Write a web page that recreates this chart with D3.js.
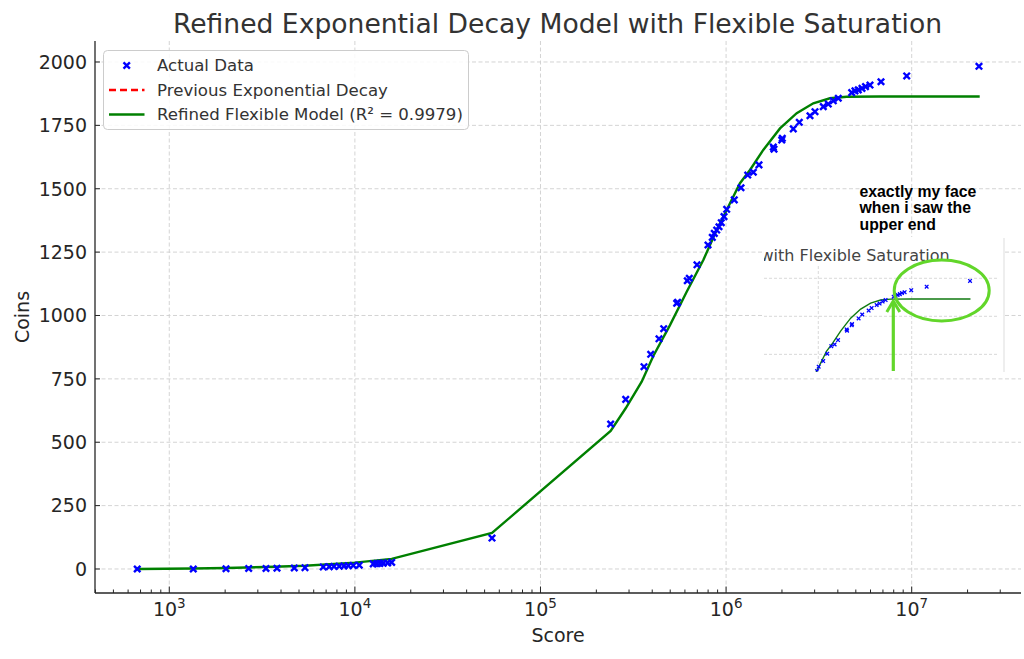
<!DOCTYPE html>
<html><head><meta charset="utf-8">
<script src="https://cdn.jsdelivr.net/npm/d3@7"></script>
<style>body{margin:0;background:#fff}svg{display:block;font-family:"DejaVu Sans",sans-serif}</style>
</head><body><svg id="c" width="1024" height="659"></svg>
<script>
// ---- data ----
const scores = [672,1347,2021,2678,3319,3804,4716,5384,6754,7278,7716,8240,8736,9213,9804,10560,12564,13110,13654,14223,15021,15785,
  54800,238800,287800,361200,392500,435100,461200,541800,548000,618000,633600,697000,799000,842700,863900,890100,915600,942200,974300,
  1007500,1107000,1203000,1308000,1402000,1504000,1796000,1812000,1995000,2009000,2302000,2480000,2832000,3013000,3340000,3553000,
  3781000,4023000,4750000,4948000,5156000,5398000,5638000,5961000,6833000,9400000,23040000];
const coins = [0,0,1,2,2,3,4,5,8,9,10,11,12,13,14,15,20,21,22,23,24,26,
  122,572,669,798,847,908,948,1048,1052,1137,1147,1200,1278,1308,1324,1337,1350,1366,1390,
  1419,1456,1504,1554,1565,1594,1664,1656,1692,1699,1736,1762,1788,1804,1824,1834,
  1847,1857,1879,1886,1890,1896,1903,1909,1922,1945,1983];
const fitScores = [672,1347,2021,3319,5384,10000,15785,54800,238800,287800,351000,405300,498600,613500,754000,890000,1007500,
  1188000,1345000,1586000,1952000,2402000,2950000,3628000,4464000,6750000,23250000];
const fitCoins = [0,2,4,8,13,25,40,142,545,634,739,840,962,1094,1219,1337,1416,
  1522,1574,1653,1738,1798,1837,1857,1863,1864,1864];
const yTicks = [0,250,500,750,1000,1250,1500,1750,2000];
const xTickExps = [3,4,5,6,7];
const legendLabels = ["Actual Data","Previous Exponential Decay","Refined Flexible Model (R\u00B2 = 0.9979)"];
const titleText = "Refined Exponential Decay Model with Flexible Saturation";
const memeLines = ["exactly my face","when i saw the","upper end"];

// ---- layout ----
const L=95,R=1021,T=41,B=593;
const svg=d3.select("#c");
const x=d3.scaleLog().domain([397.9,3.881e7]).range([L,R]);
const y=d3.scaleLinear().domain([-94.7,2082.8]).range([B,T]);
const gridC="#cfcfcf";

// grid
const g=svg.append("g");
g.selectAll(".gy").data(yTicks).join("line").attr("x1",L).attr("x2",R)
 .attr("y1",d=>y(d)).attr("y2",d=>y(d)).attr("stroke",gridC).attr("stroke-width",0.9).attr("stroke-dasharray","4,2.5");
g.selectAll(".gx").data(xTickExps).join("line").attr("y1",T).attr("y2",B)
 .attr("x1",d=>x(10**d)).attr("x2",d=>x(10**d)).attr("stroke",gridC).attr("stroke-width",0.9).attr("stroke-dasharray","4,2.5");

// fitted line
const line=d3.line().x((d,i)=>x(fitScores[i])).y((d,i)=>y(fitCoins[i]));
svg.append("path").datum(fitScores).attr("d",line).attr("fill","none").attr("stroke","#008000").attr("stroke-width",2.4);

// markers
function xMark(sel,s,w){
  sel.append("path").attr("d",`M${-s},${-s}L${s},${s}M${-s},${s}L${s},${-s}`).attr("stroke","#0000ff").attr("stroke-width",w).attr("fill","none");
}
const pts=svg.append("g");
scores.forEach((s,i)=>{
  const m=pts.append("g").attr("transform",`translate(${x(s)},${y(coins[i])})`);
  xMark(m,3.2,2.4);
});

// axes
const ax=svg.append("g").attr("transform",`translate(0,${B})`);
ax.append("line").attr("x1",L).attr("x2",R).attr("stroke","#262626").attr("stroke-width",1.3);
const minor=[];
for(let e=2;e<=7;e++){for(let k=1;k<=9;k++){const v=k*10**e; if(v>=x.domain()[0]&&v<=x.domain()[1]) minor.push({v,major:k===1});}}
ax.selectAll(".t").data(minor).join("line").attr("x1",d=>x(d.v)).attr("x2",d=>x(d.v))
 .attr("y1",0).attr("y2",d=>d.major?-6.5:-3.5).attr("stroke","#262626").attr("stroke-width",1);
const xl=ax.selectAll(".xl").data(xTickExps).join("text").attr("x",d=>x(10**d)).attr("y",23)
 .attr("text-anchor","middle").attr("font-size",19).attr("fill","#262626");
xl.append("tspan").text("10");
xl.append("tspan").attr("dy",-8).attr("font-size",13.5).text(d=>d);

const ay=svg.append("g");
ay.append("line").attr("x1",L).attr("x2",L).attr("y1",T).attr("y2",B).attr("stroke","#262626").attr("stroke-width",1.3);
ay.selectAll(".yt").data(yTicks).join("line").attr("x1",L).attr("x2",L+5).attr("y1",d=>y(d)).attr("y2",d=>y(d)).attr("stroke","#262626");
ay.selectAll(".yl").data(yTicks).join("text").attr("x",L-8).attr("y",d=>y(d)).attr("dy","0.36em")
 .attr("text-anchor","end").attr("font-size",19).attr("fill","#262626").text(d=>d);

svg.append("text").attr("x",(L+R)/2).attr("y",642).attr("text-anchor","middle").attr("font-size",19).attr("fill","#262626").text("Score");
svg.append("text").attr("transform",`translate(29,${(T+B)/2}) rotate(-90)`).attr("text-anchor","middle").attr("font-size",19).attr("fill","#262626").text("Coins");
svg.append("text").attr("x",557.5).attr("y",33).attr("text-anchor","middle").attr("font-size",26.6).attr("fill","#333").text(titleText);

// legend
const lg=svg.append("g");
lg.append("rect").attr("x",103.5).attr("y",50.5).attr("width",365).attr("height",79).attr("rx",4)
 .attr("fill","#fff").attr("fill-opacity",0.85).attr("stroke","#cccccc");
const ly=[65.5,90,114.5];
xMark(lg.append("g").attr("transform",`translate(126.7,${ly[0]})`),3.2,2.4);
lg.append("line").attr("x1",109).attr("x2",144.5).attr("y1",ly[1]).attr("y2",ly[1]).attr("stroke","#ff0000").attr("stroke-width",2.4).attr("stroke-dasharray","7,4");
lg.append("line").attr("x1",109).attr("x2",144.5).attr("y1",ly[2]).attr("y2",ly[2]).attr("stroke","#008000").attr("stroke-width",2.4);
lg.selectAll(".lt").data(legendLabels).join("text").attr("x",157).attr("y",(d,i)=>ly[i]).attr("dy","0.36em")
 .attr("font-size",16.6).attr("fill","#333").text(d=>d);

// ---- inset (pasted crop of the chart) ----
const IL=764,IR=1004,IT=237,IB=372;
const ix=d3.scaleLog().domain([1e6,1e7]).range([818.3,929.66]);
const iy=d3.scaleLinear().domain([0,2000]).range([582.5,278.3]);
const defs=svg.append("defs");
defs.append("clipPath").attr("id","ic").append("rect").attr("x",IL).attr("y",IT).attr("width",IR-IL).attr("height",IB-IT);
const ins=svg.append("g").attr("clip-path","url(#ic)");
ins.append("rect").attr("x",IL).attr("y",IT).attr("width",IR-IL).attr("height",IB-IT).attr("fill","#fff");
[1500,1750,2000].forEach(v=>ins.append("line").attr("x1",IL).attr("x2",997).attr("y1",iy(v)).attr("y2",iy(v))
  .attr("stroke",gridC).attr("stroke-width",0.8).attr("stroke-dasharray","3,2"));
[818.3,911.7].forEach(px=>ins.append("line").attr("x1",px).attr("x2",px).attr("y1",266).attr("y2",IB)
  .attr("stroke",gridC).attr("stroke-width",0.8).attr("stroke-dasharray","3,2"));
ins.append("text").attr("x",760.5).attr("y",260.7).attr("font-size",16).attr("fill","#444").text("with Flexible Saturation");
const iline=d3.line().x((d,i)=>ix(fitScores[i])).y((d,i)=>iy(fitCoins[i]));
ins.append("path").datum(fitScores).attr("d",iline).attr("fill","none").attr("stroke","#107a10").attr("stroke-width",1.4);
scores.forEach((s,i)=>{
  const m=ins.append("g").attr("transform",`translate(${ix(s)},${iy(coins[i])})`);
  xMark(m,1.8,1.3);
});
svg.append("line").attr("x1",1004).attr("x2",1004).attr("y1",IT+1).attr("y2",IB).attr("stroke","#dddddd").attr("stroke-width",1);

// annotation
const lime="#62d62a";
svg.append("ellipse").attr("cx",941.7).attr("cy",290.5).attr("rx",47.5).attr("ry",30.5).attr("fill","none").attr("stroke",lime).attr("stroke-width",3);
svg.append("line").attr("x1",893.3).attr("x2",893.3).attr("y1",371).attr("y2",303).attr("stroke",lime).attr("stroke-width",3.2);
svg.append("path").attr("d","M886.8,312L893.3,301L899.8,312").attr("fill","none").attr("stroke",lime).attr("stroke-width",3).attr("stroke-linejoin","round");
svg.append("g").selectAll("text").data(memeLines).join("text").attr("x",859.5).attr("y",(d,i)=>196.5+i*16.7)
 .attr("font-family","'Liberation Sans',Arial,sans-serif").attr("font-weight","bold").attr("font-size",15.8).attr("fill","#000").text(d=>d);
</script></body></html>
